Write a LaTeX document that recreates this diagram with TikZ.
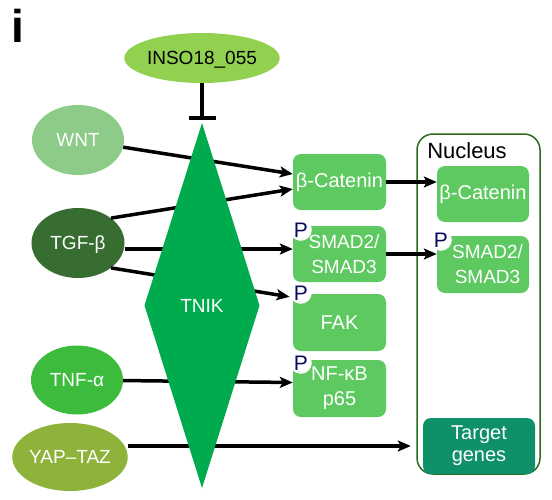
\documentclass[tikz,border=0pt]{standalone}
\usepackage{fontspec}
\setmainfont{Liberation Sans}
\usetikzlibrary{arrows.meta, shapes.geometric, positioning}

\definecolor{insogreen}{HTML}{92D050}
\definecolor{wntgreen}{HTML}{8CCB88}
\definecolor{tgfgreen}{HTML}{386D32}
\definecolor{tnfgreen}{HTML}{3DBB3D}
\definecolor{yapgreen}{HTML}{8DB33B}
\definecolor{tnikgreen}{HTML}{00AB4E}
\definecolor{protgreen}{HTML}{5DC960}
\definecolor{genegreen}{HTML}{0E9068}
\definecolor{nucgreen}{HTML}{2C6A1F}
\definecolor{pnavy}{HTML}{0B0B5E}

\begin{document}
\begin{tikzpicture}[x=1pt, y=-1pt,
    sig/.style={ellipse, inner sep=0pt, text=white, text height=13.6pt, text depth=0pt, font=\fontsize{19}{19}\selectfont},
    prot/.style={rectangle, rounded corners=8pt, fill=protgreen, text=white, minimum width=93pt, minimum height=56pt, inner sep=0pt, align=center, font=\fontsize{20}{25}\selectfont},
    smadtext/.style={font=\fontsize{19}{25}\selectfont},
    phos/.style={circle, fill=white, text=pnavy, minimum size=22pt, inner sep=0pt, font=\fontsize{21}{21}\selectfont},
    act/.style={-{Stealth[length=13pt, width=11pt, inset=3pt]}, line width=3.5pt},
    inhib/.style={-{Bar[width=27pt]}, line width=4pt}]
  \useasboundingbox (0,0) rectangle (552,499);

  % Nodes
  \node[font=\fontsize{46}{46}\bfseries\selectfont, anchor=base] (panel) at (18,42) {i};
  \node[sig, fill=insogreen, text=black, minimum width=152pt, minimum height=50pt] (inso) at (202,58) {INSO18\_055};
  \node[sig, fill=wntgreen, minimum width=92pt, minimum height=70pt] (wnt) at (78,140) {WNT};
  \node[sig, fill=tgfgreen, minimum width=93pt, minimum height=70pt] (tgfb) at (78,243) {TGF-β};
  \node[sig, fill=tnfgreen, minimum width=92pt, minimum height=69pt] (tnf) at (77,380) {TNF-α};
  \node[sig, fill=yapgreen, minimum width=114pt, minimum height=68pt] (yap) at (70,457) {YAP–TAZ};

  \node[prot] (bcat) at (339.5,182) {β-Catenin};
  \node[prot, smadtext] (smad) at (339.5,254) {\hspace*{9pt}SMAD2/\\\hspace*{9pt}SMAD3};
  \node[prot, minimum height=57pt] (fak) at (339.5,322.5) {FAK};
  \node[prot, minimum height=57pt] (nfkb) at (339.5,388.5) {NF-κB\\p65};
  \node[phos] (psmad) at ([shift={(8,4)}]smad.north west) {P};
  \node[phos] (pfak) at ([shift={(8,-1)}]fak.north west) {P};
  \node[phos] (pnfkb) at ([shift={(8,3)}]nfkb.north west) {P};

  \node[draw=nucgreen, line width=1.5pt, rounded corners=16pt, minimum width=123pt, minimum height=340pt] (nucleus) at (478.5,304) {};
  \node[font=\fontsize{22}{22}\selectfont] (nuclabel) at (467,151) {Nucleus};
  \node[prot, minimum width=92pt] (nbcat) at (483,194) {β-Catenin};
  \node[prot, smadtext, minimum width=92pt, minimum height=57pt] (nsmad) at (483,264.5) {\hspace*{9pt}SMAD2/\\\hspace*{9pt}SMAD3};
  \node[phos] (pnsmad) at ([shift={(4,4)}]nsmad.north west) {P};
  \node[prot, fill=genegreen, minimum width=112pt, font=\fontsize{20}{22}\selectfont] (target) at (479,446) {Target\\genes};

  % Edges
  \draw[act] (wnt) -- ([yshift=8pt]bcat.west);
  \draw[act] (tgfb.north east) -- ([yshift=-7pt]bcat.west);
  \draw[act] ([yshift=-6pt]tgfb.east) -- ([yshift=5pt]smad.west);
  \draw[act] (tgfb.south east) -- ([yshift=-4pt]pfak.west);
  \draw[act] (tnf) -- ([yshift=6pt]nfkb.west);
  \draw[act] (yap.east |- target.west) -- ([xshift=-12pt]target.west);
  \draw[act, line width=4.5pt] (bcat.east) -- (bcat.east -| nbcat.west);
  \draw[act, line width=4.5pt] (smad.east) -- (smad.east -| nsmad.west);

  % TNIK on top of the crossing edges
  \node[diamond, fill=tnikgreen, minimum width=115pt, minimum height=365pt, inner sep=0pt, outer sep=0pt, text=white, font=\fontsize{19}{19}\selectfont] (tnik) at (202,305.5) {TNIK};
  \draw[inhib] (inso) -- ([yshift=3pt]tnik.north);
\end{tikzpicture}
\end{document}
